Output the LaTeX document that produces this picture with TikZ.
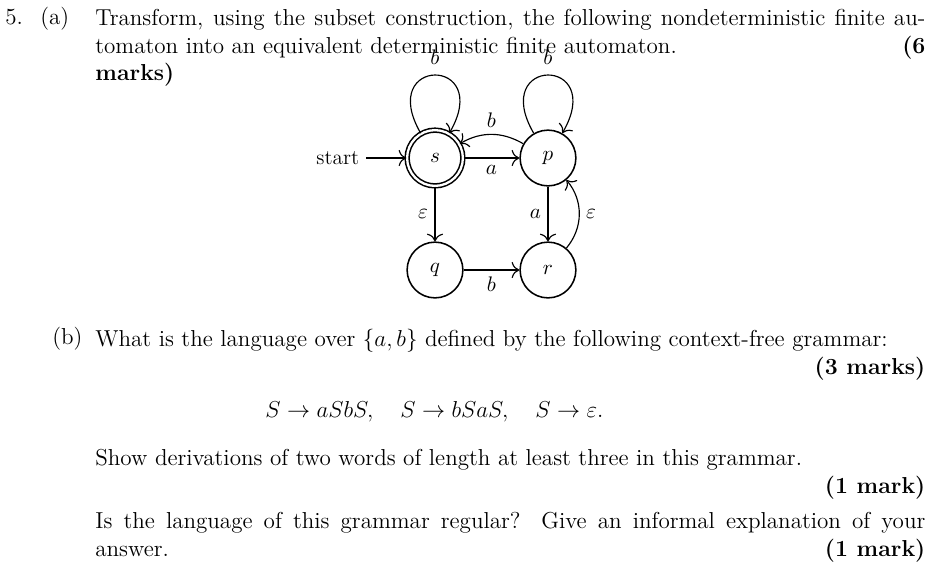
\documentclass[tikz,border=0pt]{standalone}
\usetikzlibrary{automata,arrows.meta}
\begin{document}
\begin{tikzpicture}[x=0.52pt,y=-0.52pt,
  st/.style={circle,draw,thick,minimum size=29pt,inner sep=0pt,font=\fontsize{11}{13}\selectfont},
  acc/.style={st,double,double distance=1.2pt},
  edge/.style={draw,->,>={To[length=4pt]},semithick},
  lbl/.style={font=\fontsize{11}{13}\selectfont},
  txt/.style={inner sep=0pt,font=\fontsize{12}{14.5}\selectfont},
  par/.style={txt,anchor=north west,text width=431.6pt,align=justify}]
\useasboundingbox (0,0) rectangle (935,580);
% part a
\node[txt,anchor=base west] (n5) at (5,24) {5.};
\node[txt,anchor=base west] (pa) at (40,24) {(a)};
\node[par] (ta) at (95,8.5) {Transform, using the subset construction, the following nondeterministic finite automaton into an equivalent deterministic finite automaton.\hfill\textbf{(6 marks)}};
% automaton
\node[acc] (s) at (435,158) {$s$};
\node[st] (p) at (548,158) {$p$};
\node[st] (q) at (435,270) {$q$};
\node[st] (r) at (548,270) {$r$};
\node[lbl,anchor=east] (start) at (366,158) {start};
\draw[edge] (start) -- (s);
\draw[edge] (s) to[loop above,looseness=8,in=60,out=120] node[lbl,above=2pt]{$b$} (s);
\draw[edge] (p) to[loop above,looseness=8,in=60,out=120] node[lbl,above=2pt]{$b$} (p);
\draw[edge] (p) to[bend right=30] node[lbl,above]{$b$} (s);
\draw[edge] (s) -- node[lbl,below]{$a$} (p);
\draw[edge] (s) -- node[lbl,left]{$\varepsilon$} (q);
\draw[edge] (p) -- node[lbl,left]{$a$} (r);
\draw[edge] (r) to[bend right=40] node[lbl,right]{$\varepsilon$} (p);
\draw[edge] (q) -- node[lbl,below]{$b$} (r);
% part b
\node[txt,anchor=base west] (pb) at (52,344) {(b)};
\node[par] (tb) at (95,328.5) {What is the language over $\{a,b\}$ defined by the following context-free grammar:\par\hfill\textbf{(3 marks)}};
\node[txt,anchor=base west] (g) at (265,417) {$S\rightarrow aSbS,\quad S\rightarrow bSaS,\quad S\rightarrow\varepsilon.$};
\node[par] (tc) at (95,448.5) {Show derivations of two words of length at least three in this grammar.\par\hfill\textbf{(1 mark)}};
\node[par] (td) at (95,511.5) {Is the language of this grammar regular? Give an informal explanation of your answer.\hfill\textbf{(1 mark)}};
\end{tikzpicture}
\end{document}
